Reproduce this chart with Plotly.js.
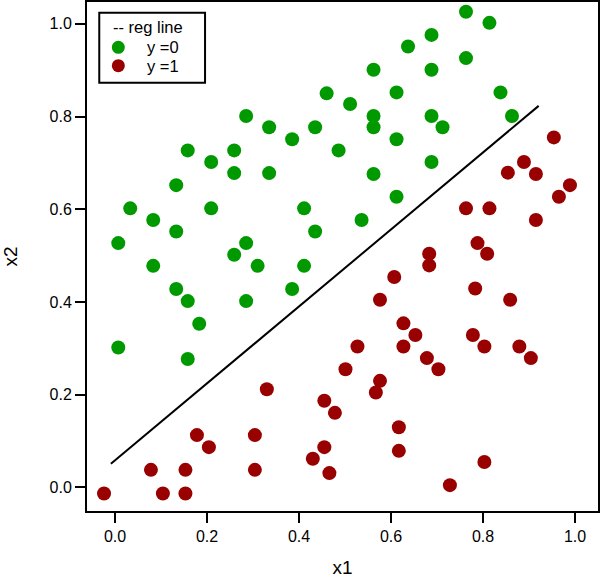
<!DOCTYPE html>
<html>
<head>
<meta charset="utf-8">
<script src="https://cdn.plot.ly/plotly-3.0.1.min.js"></script>
<style>html,body{margin:0;padding:0;background:#fff;}#chart{width:600px;height:581px;}</style>
</head>
<body>
<div id="chart"></div>
<script>
// y = 0 (green) points
const greenX = [0.763,0.814,0.688,0.637,0.763,0.562,0.688,0.460,0.612,0.838,0.511,0.285,0.562,0.688,0.863,0.335,0.435,0.562,0.712,0.385,0.612,0.158,0.259,0.486,0.209,0.688,0.259,0.335,0.562,0.133,0.612,0.033,0.209,0.411,0.083,0.536,0.133,0.435,0.007,0.285,0.259,0.083,0.310,0.411,0.133,0.385,0.158,0.285,0.183,0.007,0.158];
const greenY = [1.026,1.002,0.976,0.951,0.926,0.901,0.901,0.850,0.852,0.852,0.827,0.801,0.801,0.801,0.801,0.777,0.777,0.777,0.777,0.751,0.751,0.727,0.727,0.727,0.702,0.702,0.678,0.678,0.676,0.652,0.627,0.602,0.602,0.602,0.577,0.577,0.552,0.552,0.527,0.527,0.502,0.478,0.478,0.478,0.428,0.428,0.402,0.402,0.353,0.302,0.277];
// y = 1 (red) points
const redX = [0.954,0.889,0.854,0.915,0.989,0.965,0.763,0.814,0.915,0.788,0.683,0.809,0.683,0.607,0.783,0.859,0.576,0.627,0.653,0.778,0.627,0.527,0.803,0.879,0.678,0.904,0.703,0.501,0.576,0.567,0.330,0.455,0.478,0.617,0.178,0.304,0.204,0.455,0.617,0.430,0.803,0.078,0.153,0.304,0.466,0.728,-0.024,0.104,0.153];
const redY = [0.755,0.702,0.679,0.676,0.652,0.627,0.602,0.602,0.577,0.527,0.504,0.504,0.479,0.454,0.429,0.405,0.405,0.354,0.329,0.329,0.304,0.304,0.304,0.304,0.279,0.279,0.255,0.255,0.230,0.205,0.212,0.187,0.161,0.130,0.113,0.113,0.087,0.087,0.079,0.062,0.055,0.038,0.038,0.038,0.031,0.005,-0.013,-0.013,-0.013];
// regression line end points
const regLineX = [-0.009, 0.921];
const regLineY = [0.051, 0.823];
const tickVals = [0, 0.2, 0.4, 0.6, 0.8, 1.0];
const tickText = ['0.0','0.2','0.4','0.6','0.8','1.0'];
const legendLabels = ['-- reg line', 'y =0', 'y =1'];

const GREEN = '#009a00', RED = '#990000';
const FONT = 'Liberation Sans, Arial, sans-serif';

const traces = [
  {x: regLineX, y: regLineY, mode: 'lines', line: {color: '#000', width: 2}, name: 'reg line', hoverinfo: 'skip'},
  {x: greenX, y: greenY, mode: 'markers', name: 'y =0', marker: {color: GREEN, size: 14}},
  {x: redX, y: redY, mode: 'markers', name: 'y =1', marker: {color: RED, size: 14}}
];
const axisCommon = {
  showgrid: false, zeroline: false, showline: true, mirror: true, linecolor: '#000', linewidth: 2,
  ticks: 'outside', ticklen: 10, tickwidth: 2, tickcolor: '#000',
  tickvals: tickVals, ticktext: tickText,
  tickfont: {family: FONT, size: 16, color: '#000'}
};

// hand-built legend box (R style)
const legendShapes = [
  {type: 'rect', xref: 'paper', yref: 'paper', x0: 0.024, x1: 0.231, y0: 0.8415, y1: 0.979,
   line: {color: '#000', width: 2}, fillcolor: '#fff', layer: 'above'},
  {type: 'circle', xref: 'paper', yref: 'paper', xsizemode: 'pixel', ysizemode: 'pixel',
   xanchor: 0.0613, yanchor: 0.911, x0: -6.5, x1: 6.5, y0: -6.5, y1: 6.5,
   fillcolor: GREEN, line: {width: 0}, layer: 'above'},
  {type: 'circle', xref: 'paper', yref: 'paper', xsizemode: 'pixel', ysizemode: 'pixel',
   xanchor: 0.0613, yanchor: 0.8749, x0: -6.5, x1: 6.5, y0: -6.5, y1: 6.5,
   fillcolor: RED, line: {width: 0}, layer: 'above'}
];
const legendPos = [[0.0483, 0.9515], [0.1155, 0.911], [0.1155, 0.8749]];
const legendAnnotations = legendLabels.map((t, i) => ({
  text: t, xref: 'paper', yref: 'paper', x: legendPos[i][0], y: legendPos[i][1],
  xanchor: 'left', yanchor: 'middle', showarrow: false, borderpad: 0,
  font: {family: FONT, size: 16.5, color: '#000'}
}));

const layout = {
  width: 600, height: 581,
  margin: {l: 87, r: 2, t: 2, b: 70},
  paper_bgcolor: '#fff', plot_bgcolor: '#fff',
  font: {family: FONT, color: '#000'},
  xaxis: Object.assign({}, axisCommon, {range: [-0.061, 1.05], title: {text: 'x1', font: {size: 19}, standoff: 16}}),
  yaxis: Object.assign({}, axisCommon, {range: [-0.0507, 1.047], title: {text: 'x2', font: {size: 19}, standoff: 27}}),
  showlegend: false,
  shapes: legendShapes,
  annotations: legendAnnotations
};
Plotly.newPlot('chart', traces, layout, {displayModeBar: false, staticPlot: true});
</script>
</body>
</html>
